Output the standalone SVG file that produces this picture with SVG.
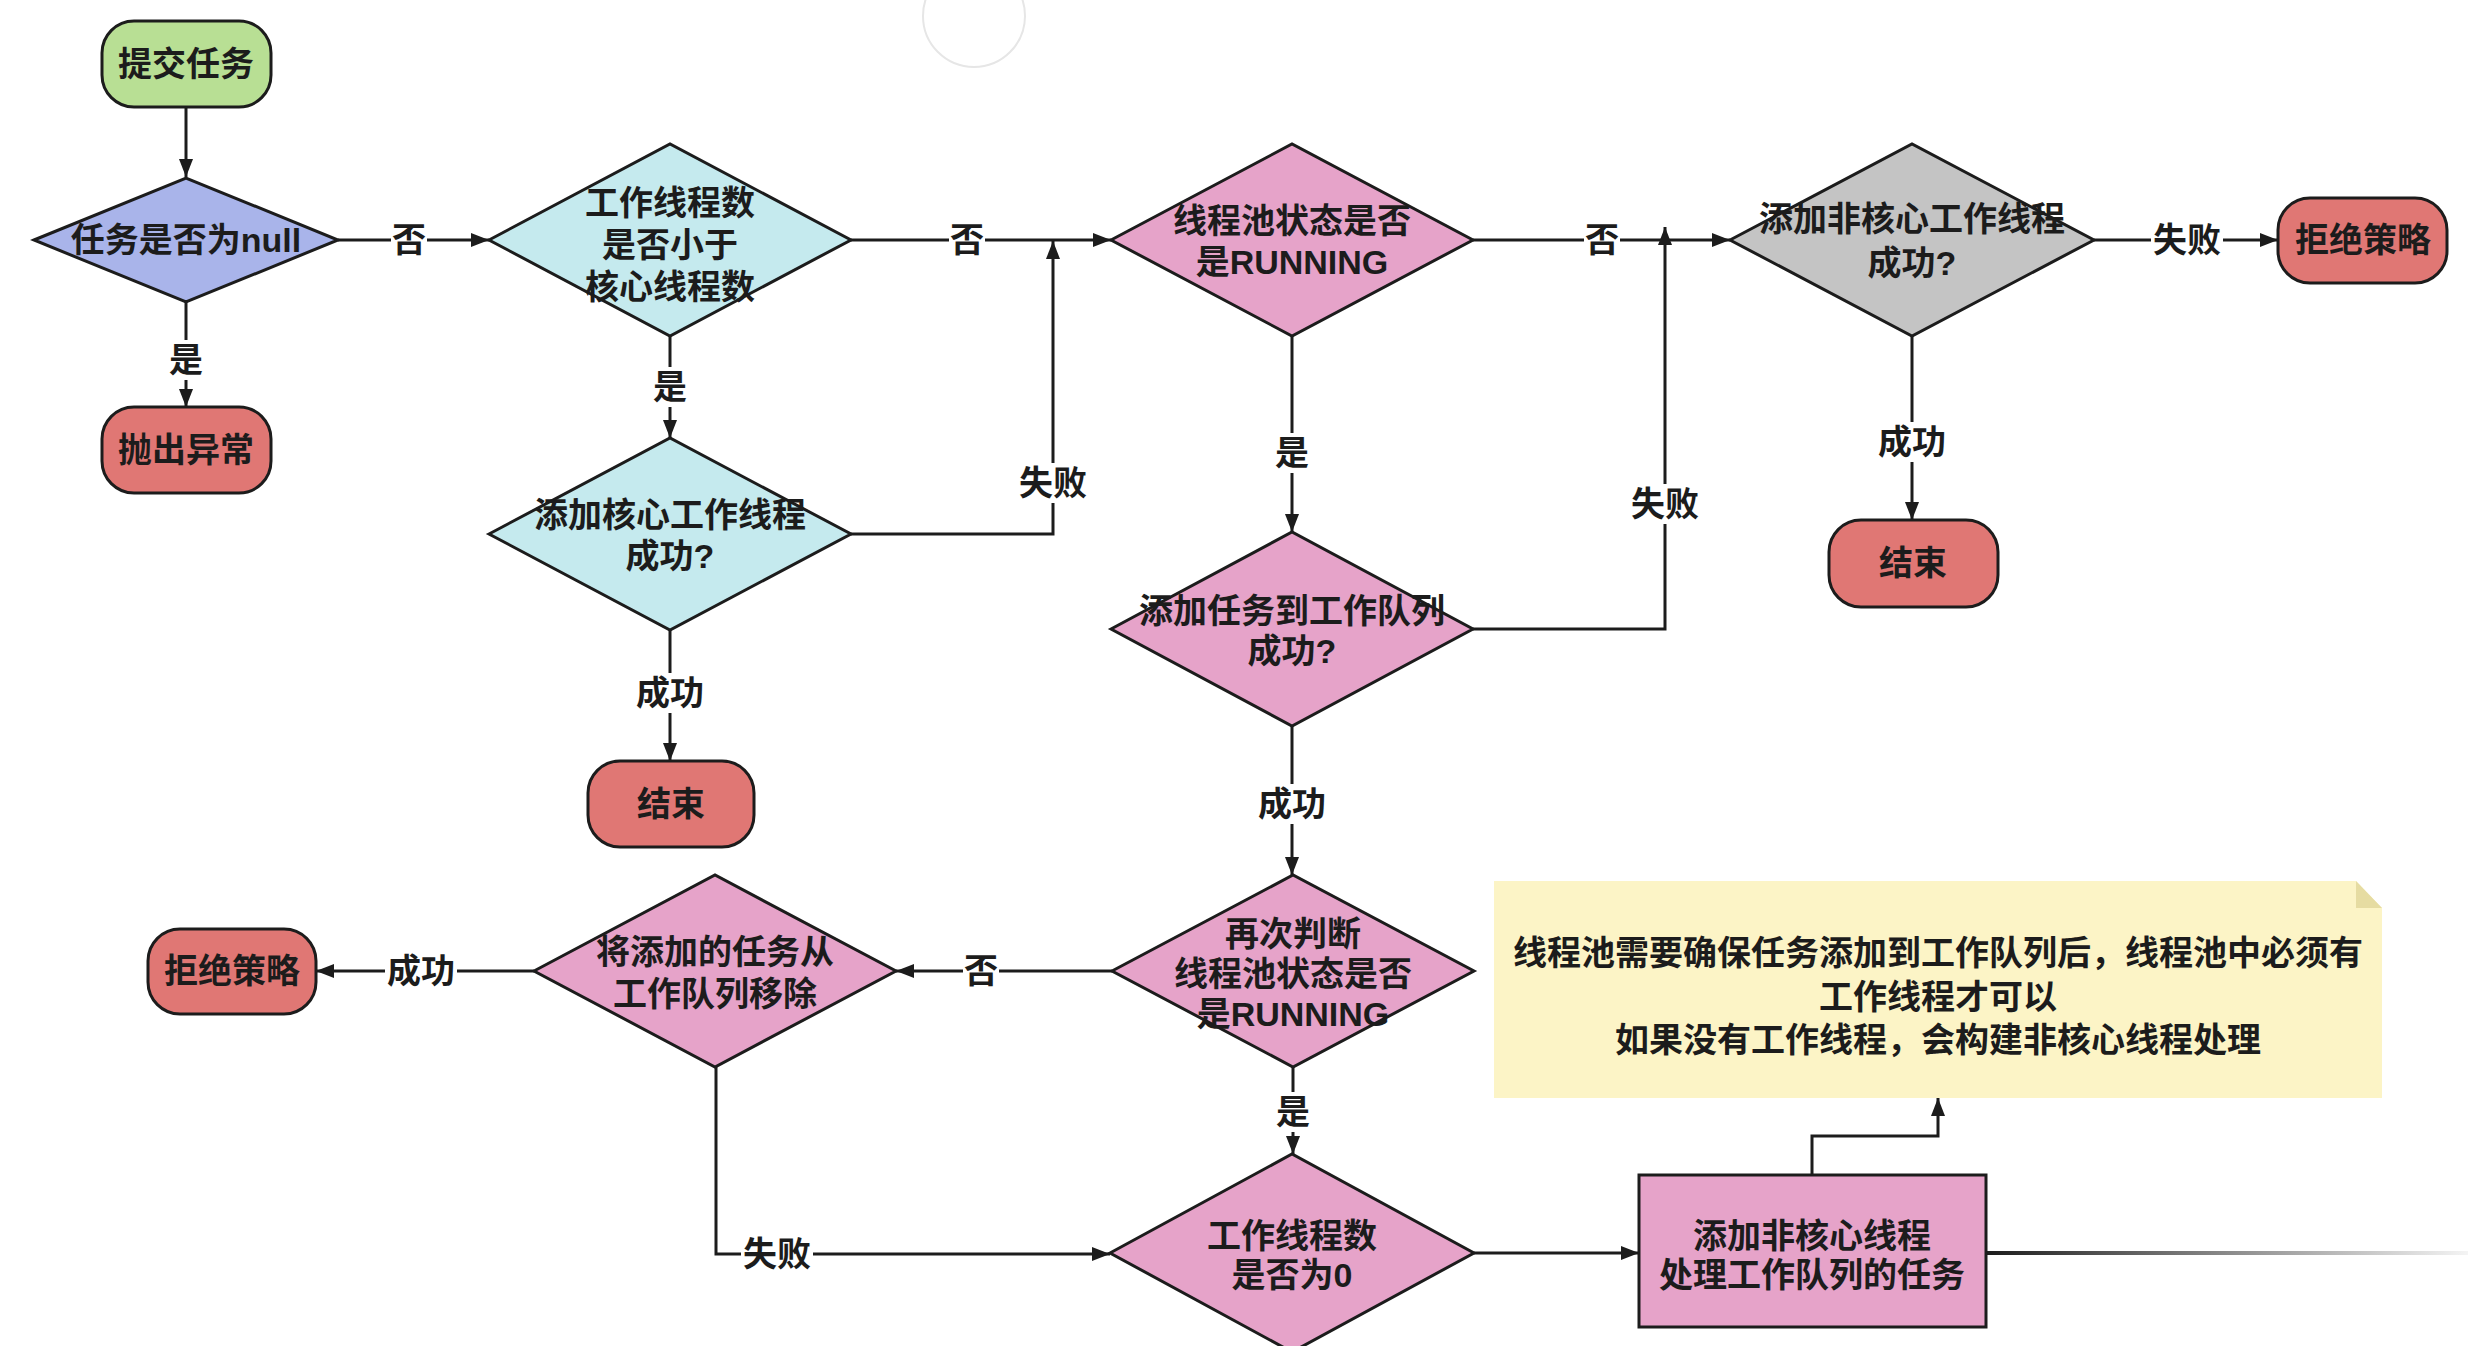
<svg xmlns="http://www.w3.org/2000/svg" width="2468" height="1346" viewBox="0 0 2468 1346">
<style>
text{font-family:"Liberation Sans","Noto Sans CJK SC",sans-serif;font-size:34px;font-weight:bold;fill:#1c1c1c;text-anchor:middle;dominant-baseline:central}
.term{stroke:#1c1c1c;stroke-width:3}
.red{fill:#e07774}
.green{fill:#b8df94}
.blue{fill:#a9b4ea}
.cyan{fill:#c5eaee}
.pink{fill:#e6a3c9}
.gray{fill:#c4c4c4}
.edge{fill:none;stroke:#1c1c1c;stroke-width:3}
.lbg{fill:#ffffff}
</style>
<defs>
<marker id="arr" viewBox="0 0 18 14" refX="18" refY="7" markerWidth="18" markerHeight="14" markerUnits="userSpaceOnUse" orient="auto">
<path d="M0,0 L18,7 L0,14 z" fill="#1c1c1c"/>
</marker>
<linearGradient id="fade" x1="0" y1="0" x2="1" y2="0">
<stop offset="0" stop-color="#1c1c1c"/>
<stop offset="0.25" stop-color="#555555"/>
<stop offset="1" stop-color="#f4f4f4"/>
</linearGradient>
</defs>
<rect width="2468" height="1346" fill="#ffffff"/>
<circle cx="974" cy="16" r="51" fill="none" stroke="#e6e6e6" stroke-width="2"/>

<g id="connectors">
<path class="edge" d="M186,107 L186,177" marker-end="url(#arr)"/>
<path class="edge" d="M338,240 L489,240" marker-end="url(#arr)"/>
<path class="edge" d="M186,302 L186,407" marker-end="url(#arr)"/>
<path class="edge" d="M851,240 L1111,240" marker-end="url(#arr)"/>
<path class="edge" d="M670,336 L670,438" marker-end="url(#arr)"/>
<path class="edge" d="M851,534 L1053,534 L1053,241" marker-end="url(#arr)"/>
<path class="edge" d="M670,630 L670,761" marker-end="url(#arr)"/>
<path class="edge" d="M1473,240 L1730,240" marker-end="url(#arr)"/>
<path class="edge" d="M1292,336 L1292,532" marker-end="url(#arr)"/>
<path class="edge" d="M1473,629 L1665,629 L1665,227" marker-end="url(#arr)"/>
<path class="edge" d="M1292,726 L1292,875" marker-end="url(#arr)"/>
<path class="edge" d="M2094,240 L2278,240" marker-end="url(#arr)"/>
<path class="edge" d="M1912,336 L1912,520" marker-end="url(#arr)"/>
<path class="edge" d="M1112,971 L896,971" marker-end="url(#arr)"/>
<path class="edge" d="M534,971 L316,971" marker-end="url(#arr)"/>
<path class="edge" d="M716,1067 L716,1254 L1110,1254" marker-end="url(#arr)"/>
<path class="edge" d="M1293,1067 L1293,1154" marker-end="url(#arr)"/>
<path class="edge" d="M1474,1253 L1639,1253" marker-end="url(#arr)"/>
<path class="edge" d="M1812,1175 L1812,1136 L1938,1136 L1938,1098" marker-end="url(#arr)"/>
<rect x="1986" y="1251" width="482" height="4" fill="url(#fade)"/>

<rect class="lbg" x="391" y="220" width="36" height="40"/><text x="409" y="240">否</text>
<rect class="lbg" x="168" y="340" width="36" height="40"/><text x="186" y="360">是</text>
<rect class="lbg" x="949" y="220" width="36" height="40"/><text x="967" y="240">否</text>
<rect class="lbg" x="652" y="367" width="36" height="40"/><text x="670" y="387">是</text>
<rect class="lbg" x="1017" y="463" width="72" height="40"/><text x="1053" y="483">失败</text>
<rect class="lbg" x="634" y="673" width="72" height="40"/><text x="670" y="693">成功</text>
<rect class="lbg" x="1584" y="220" width="36" height="40"/><text x="1602" y="240">否</text>
<rect class="lbg" x="1274" y="433" width="36" height="40"/><text x="1292" y="453">是</text>
<rect class="lbg" x="1629" y="484" width="72" height="40"/><text x="1665" y="504">失败</text>
<rect class="lbg" x="1256" y="784" width="72" height="40"/><text x="1292" y="804">成功</text>
<rect class="lbg" x="2151" y="220" width="72" height="40"/><text x="2187" y="240">失败</text>
<rect class="lbg" x="1876" y="422" width="72" height="40"/><text x="1912" y="442">成功</text>
<rect class="lbg" x="963" y="951" width="36" height="40"/><text x="981" y="971">否</text>
<rect class="lbg" x="385" y="951" width="72" height="40"/><text x="421" y="971">成功</text>
<rect class="lbg" x="741" y="1234" width="72" height="40"/><text x="777" y="1254">失败</text>
<rect class="lbg" x="1275" y="1092" width="36" height="40"/><text x="1293" y="1112">是</text>
</g>

<g id="n_submit"><rect class="term green" x="102" y="21" width="169" height="86" rx="32"/><text x="186" y="64">提交任务</text></g>
<g id="n_null"><polygon class="term blue" points="34,240 186,178 338,240 186,302"/><text x="186" y="240">任务是否为null</text></g>
<g id="n_exception"><rect class="term red" x="102" y="407" width="169" height="86" rx="32"/><text x="186" y="450">抛出异常</text></g>
<g id="n_lt_core"><polygon class="term cyan" points="489,240 670,144 851,240 670,336"/><text x="670" y="203">工作线程数<tspan x="670" dy="42">是否小于</tspan><tspan x="670" dy="42">核心线程数</tspan></text></g>
<g id="n_add_core"><polygon class="term cyan" points="489,534 670,438 851,534 670,630"/><text x="670" y="515">添加核心工作线程<tspan x="670" dy="41">成功?</tspan></text></g>
<g id="n_end1"><rect class="term red" x="588" y="761" width="166" height="86" rx="32"/><text x="671" y="804">结束</text></g>
<g id="n_running"><polygon class="term pink" points="1111,240 1292,144 1473,240 1292,336"/><text x="1292" y="221">线程池状态是否<tspan x="1292" dy="41">是RUNNING</tspan></text></g>
<g id="n_queue"><polygon class="term pink" points="1111,629 1292,532 1473,629 1292,726"/><text x="1292" y="611">添加任务到工作队列<tspan x="1292" dy="40">成功?</tspan></text></g>
<g id="n_noncore"><polygon class="term gray" points="1730,240 1912,144 2094,240 1912,336"/><text x="1912" y="219">添加非核心工作线程<tspan x="1912" dy="44">成功?</tspan></text></g>
<g id="n_reject1"><rect class="term red" x="2278" y="198" width="169" height="85" rx="32"/><text x="2363" y="240">拒绝策略</text></g>
<g id="n_end2"><rect class="term red" x="1829" y="520" width="169" height="87" rx="32"/><text x="1913" y="563">结束</text></g>
<g id="n_recheck"><polygon class="term pink" points="1112,971 1293,875 1474,971 1293,1067"/><text x="1293" y="934">再次判断<tspan x="1293" dy="40">线程池状态是否</tspan><tspan x="1293" dy="40">是RUNNING</tspan></text></g>
<g id="n_remove"><polygon class="term pink" points="534,971 715,875 896,971 715,1067"/><text x="715" y="952">将添加的任务从<tspan x="715" dy="42">工作队列移除</tspan></text></g>
<g id="n_reject2"><rect class="term red" x="148" y="929" width="168" height="85" rx="32"/><text x="232" y="971">拒绝策略</text></g>
<g id="n_zero"><polygon class="term pink" points="1110,1253 1292,1154 1474,1253 1292,1352"/><text x="1292" y="1236">工作线程数<tspan x="1292" dy="39">是否为0</tspan></text></g>
<g id="n_add_worker"><rect class="term pink" x="1639" y="1175" width="347" height="152"/><text x="1812" y="1236">添加非核心线程<tspan x="1812" dy="39">处理工作队列的任务</tspan></text></g>
<g id="n_note"><path d="M1494,881 L2356,881 L2382,908 L2382,1098 L1494,1098 z" fill="#fcf4c6"/><path d="M2356,881 L2356,908 L2382,908 z" fill="#e6dca2"/><text x="1938" y="953">线程池需要确保任务添加到工作队列后，线程池中必须有<tspan x="1938" dy="44">工作线程才可以</tspan><tspan x="1938" dy="43">如果没有工作线程，会构建非核心线程处理</tspan></text></g>
</svg>
